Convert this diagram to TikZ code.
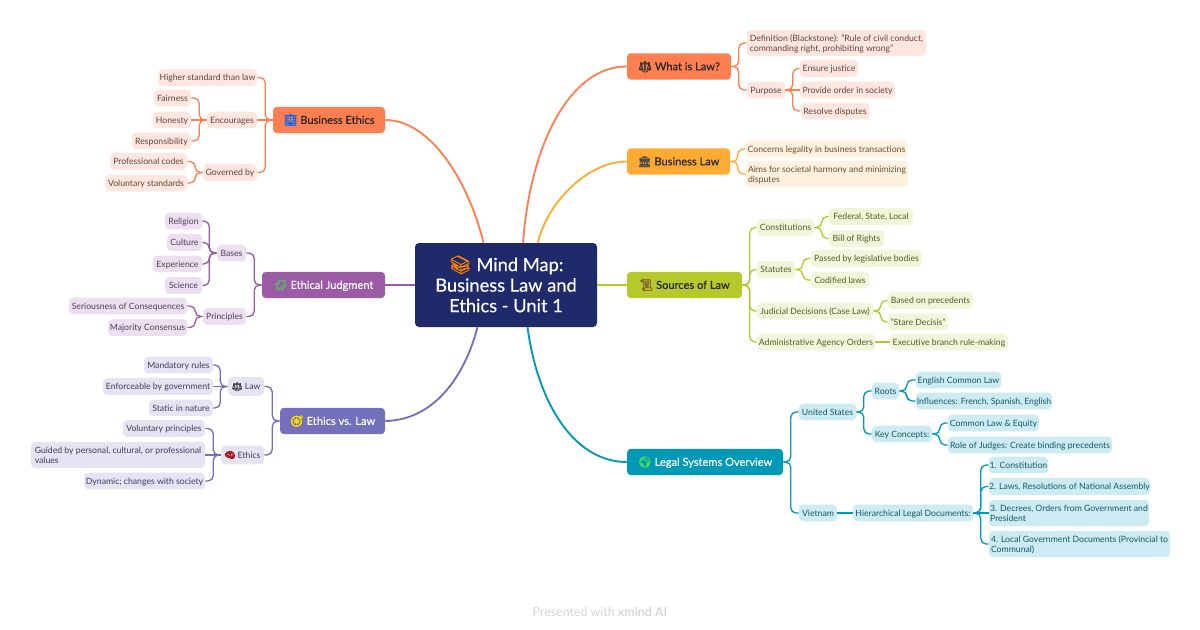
\documentclass[tikz,border=0pt]{standalone}
\usepackage{fontspec}
\setmainfont{Lato}
\newfontfamily\emojifont{Noto Emoji}[FakeBold=0.5]
\newfontfamily\boxfont{Lato}[FakeBold=0.35]

\definecolor{rootblue}{HTML}{1F2A6B}
\definecolor{coral}{HTML}{FF7F50}
\definecolor{coralleaf}{HTML}{FFE6DF}
\definecolor{coraltext}{HTML}{66443B}
\definecolor{amber}{HTML}{FFAB33}
\definecolor{amberleaf}{HTML}{FFF1DD}
\definecolor{ambertext}{HTML}{665233}
\definecolor{lime}{HTML}{B5C92B}
\definecolor{limeleaf}{HTML}{F2F5DA}
\definecolor{limetext}{HTML}{565C2A}
\definecolor{teal}{HTML}{0099B8}
\definecolor{tealleaf}{HTML}{CCEBF2}
\definecolor{tealtext}{HTML}{155A69}
\definecolor{iris}{HTML}{7570BC}
\definecolor{irisleaf}{HTML}{E5E4F3}
\definecolor{iristext}{HTML}{403D60}
\definecolor{violet}{HTML}{9B5BA5}
\definecolor{violetleaf}{HTML}{ECDFEF}
\definecolor{violettext}{HTML}{54405A}
\definecolor{footgray}{HTML}{D6D6D6}
\definecolor{brightgreen}{HTML}{45D65A}

\newcommand{\emo}[2]{\smash{\emojifont\textcolor{#1}{#2}}}

\tikzset{
    leaf/.style={rectangle, rounded corners=3pt, inner sep=0pt, align=left,
        text height=5.8pt, text depth=1.2pt,
        minimum height=12.4pt, minimum width=#1*0.75pt,
        font=\fontsize{6.5}{7.5}\selectfont},
    tallleaf/.style={leaf=#1, minimum height=19.5pt, text height=, text depth=0pt},
    mainbox/.style={rectangle, rounded corners=3pt, inner sep=0pt, minimum height=19.8pt,
        text height=7.2pt, text depth=1.4pt,
        minimum width=#1*0.75pt, font=\boxfont\fontsize{8.3}{10}\selectfont},
    rootbox/.style={rectangle, rounded corners=3pt, inner sep=0pt, align=center, fill=rootblue,
        text=white, minimum width=136.5pt, minimum height=63pt,
        font=\boxfont\fontsize{13.7}{15.4}\selectfont},
    toleft/.style={to path={-- ++(-7.5,0) |- (\tikztotarget)}},
    toright/.style={to path={-- ++(7.5,0) |- (\tikztotarget)}},
    link/.style={draw=#1, line width=1pt, rounded corners=4pt},
    stem/.style={draw=#1, line width=1.4pt},
}

\begin{document}
\begin{tikzpicture}[x=0.75pt, y=-0.75pt]
    \useasboundingbox (0, 0) rectangle (1200, 629);

    \node [rootbox, name=root] at (506, 285) {\emo{orange}{📚} Mind Map:\\Business Law and\\Ethics - Unit 1};

    % upper right
    \node [mainbox=104, fill=coral, text=black!85, name=law_main] at (679, 66.5) {\emo{black!80}{⚖} What is Law?};
    \node [tallleaf=179, fill=coralleaf, text=coraltext, name=law_def] at (836.5, 43) {Definition (Blackstone): "Rule of civil conduct,\\commanding right, prohibiting wrong"};
    \node [leaf=38, fill=coralleaf, text=coraltext, name=law_purpose] at (766, 90) {Purpose};
    \node [leaf=58, fill=coralleaf, text=coraltext, name=law_justice] at (829, 68.5) {Ensure justice};
    \node [leaf=95, fill=coralleaf, text=coraltext, name=law_order] at (847.5, 90) {Provide order in society};
    \node [leaf=69, fill=coralleaf, text=coraltext, name=law_disputes] at (835, 111) {Resolve disputes};

    \node [mainbox=103, fill=amber, text=black!85, name=biz_main] at (678.5, 161.5) {\emo{black!70}{🏛} Business Law};
    \node [leaf=161, fill=amberleaf, text=ambertext, name=biz_legal] at (826.5, 149) {Concerns legality in business transactions};
    \node [tallleaf=162, fill=amberleaf, text=ambertext, name=biz_aims] at (827, 174) {Aims for societal harmony and minimizing\\disputes};

    % right
    \node [mainbox=115, fill=lime, text=black!85, name=src_main] at (684.5, 285) {\emo{brown!70!black}{📜} Sources of Law};
    \node [leaf=57, fill=limeleaf, text=limetext, name=src_const] at (785.5, 227.5) {Constitutions};
    \node [leaf=84, fill=limeleaf, text=limetext, name=src_federal] at (871, 216.5) {Federal, State, Local};
    \node [leaf=55, fill=limeleaf, text=limetext, name=src_bill] at (856.5, 238.5) {Bill of Rights};
    \node [leaf=38, fill=limeleaf, text=limetext, name=src_stat] at (776, 269.5) {Statutes};
    \node [leaf=111, fill=limeleaf, text=limetext, name=src_passed] at (866.5, 258.5) {Passed by legislative bodies};
    \node [leaf=58, fill=limeleaf, text=limetext, name=src_codified] at (840, 280) {Codified laws};
    \node [leaf=116, fill=limeleaf, text=limetext, name=src_judicial] at (815, 311) {Judicial Decisions (Case Law)};
    \node [leaf=85, fill=limeleaf, text=limetext, name=src_based] at (930.5, 300.5) {Based on precedents};
    \node [leaf=60, fill=limeleaf, text=limetext, name=src_stare] at (918, 322) {"Stare Decisis"};
    \node [leaf=118, fill=limeleaf, text=limetext, name=src_admin] at (816, 342) {Administrative Agency Orders};
    \node [leaf=118, fill=limeleaf, text=limetext, name=src_exec] at (949, 342) {Executive branch rule-making};

    % lower right
    \node [mainbox=156, fill=teal, text=white, name=sys_main] at (705, 462) {\emo{brightgreen}{🌍} Legal Systems Overview};
    \node [leaf=57, fill=tealleaf, text=tealtext, name=sys_us] at (827.5, 412) {United States};
    \node [leaf=38, fill=tealleaf, text=tealtext, name=sys_vn] at (818, 513) {Vietnam};
    \node [leaf=27, fill=tealleaf, text=tealtext, name=sys_roots] at (885.5, 391) {Roots};
    \node [leaf=60, fill=tealleaf, text=tealtext, name=sys_key] at (902, 434) {Key Concepts:};
    \node [leaf=85, fill=tealleaf, text=tealtext, name=sys_english] at (958.5, 380) {English Common Law};
    \node [leaf=136, fill=tealleaf, text=tealtext, name=sys_infl] at (984, 401) {Influences: French, Spanish, English};
    \node [leaf=91, fill=tealleaf, text=tealtext, name=sys_equity] at (993.5, 423) {Common Law \& Equity};
    \node [leaf=164, fill=tealleaf, text=tealtext, name=sys_judges] at (1030, 445) {Role of Judges: Create binding precedents};
    \node [leaf=120, fill=tealleaf, text=tealtext, name=sys_hier] at (913, 513) {Hierarchical Legal Documents:};
    \node [leaf=59, fill=tealleaf, text=tealtext, name=sys_doc1] at (1018.5, 465) {1. Constitution};
    \node [leaf=161, fill=tealleaf, text=tealtext, name=sys_doc2] at (1069.5, 486.5) {2. Laws, Resolutions of National Assembly};
    \node [tallleaf=160, fill=tealleaf, text=tealtext, name=sys_doc3] at (1069, 513) {3. Decrees, Orders from Government and\\President};
    \node [tallleaf=181, fill=tealleaf, text=tealtext, name=sys_doc4] at (1079.5, 544) {4. Local Government Documents (Provincial to\\Communal)};

    % upper left
    \node [mainbox=112, fill=coral, text=black!85, name=eth_main] at (329, 120) {\emo{blue!60!cyan}{🏢} Business Ethics};
    \node [leaf=99, fill=coralleaf, text=coraltext, name=eth_higher] at (207.5, 77.5) {Higher standard than law};
    \node [leaf=50, fill=coralleaf, text=coraltext, name=eth_enc] at (232, 120) {Encourages};
    \node [leaf=54, fill=coralleaf, text=coraltext, name=eth_gov] at (230, 172.5) {Governed by};
    \node [leaf=37, fill=coralleaf, text=coraltext, name=eth_fair] at (172.5, 98) {Fairness};
    \node [leaf=38, fill=coralleaf, text=coraltext, name=eth_honest] at (172, 120) {Honesty};
    \node [leaf=59, fill=coralleaf, text=coraltext, name=eth_resp] at (161.5, 141) {Responsibility};
    \node [leaf=77, fill=coralleaf, text=coraltext, name=eth_codes] at (148.5, 161.5) {Professional codes};
    \node [leaf=82, fill=coralleaf, text=coraltext, name=eth_stand] at (146, 183) {Voluntary standards};

    % left
    \node [mainbox=123, fill=violet, text=white, name=jud_main] at (323.5, 285) {\emo{brightgreen}{🧩} Ethical Judgment};
    \node [leaf=29, fill=violetleaf, text=violettext, name=jud_bases] at (231.5, 253) {Bases};
    \node [leaf=43, fill=violetleaf, text=violettext, name=jud_prin] at (224.5, 316.5) {Principles};
    \node [leaf=37, fill=violetleaf, text=violettext, name=jud_rel] at (183.5, 221) {Religion};
    \node [leaf=35, fill=violetleaf, text=violettext, name=jud_cul] at (184.5, 242.5) {Culture};
    \node [leaf=49, fill=violetleaf, text=violettext, name=jud_exp] at (177.5, 264) {Experience};
    \node [leaf=37, fill=violetleaf, text=violettext, name=jud_sci] at (183.5, 285.5) {Science};
    \node [leaf=118, fill=violetleaf, text=violettext, name=jud_ser] at (128, 306) {Seriousness of Consequences};
    \node [leaf=79, fill=violetleaf, text=violettext, name=jud_maj] at (147.5, 327.5) {Majority Consensus};

    % lower left
    \node [mainbox=105, fill=iris, text=white, name=vs_main] at (332.5, 421) {\emo{yellow!80!orange}{🧭} Ethics vs. Law};
    \node [leaf=36, minimum height=14pt, fill=irisleaf, text=iristext, name=vs_law] at (246, 386.5) {\emo{black!75}{⚖} Law};
    \node [leaf=43, minimum height=14pt, fill=irisleaf, text=iristext, name=vs_eth] at (242.5, 455) {\emo{red!65!black}{🧠} Ethics};
    \node [leaf=69, fill=irisleaf, text=iristext, name=vs_mand] at (178.5, 365) {Mandatory rules};
    \node [leaf=110, fill=irisleaf, text=iristext, name=vs_enf] at (158, 386.5) {Enforceable by government};
    \node [leaf=64, fill=irisleaf, text=iristext, name=vs_static] at (181, 408) {Static in nature};
    \node [leaf=82, fill=irisleaf, text=iristext, name=vs_vol] at (164, 428.5) {Voluntary principles};
    \node [tallleaf=174, fill=irisleaf, text=iristext, name=vs_guided] at (118, 455) {Guided by personal, cultural, or professional\\values};
    \node [leaf=121, fill=irisleaf, text=iristext, name=vs_dyn] at (144.5, 481) {Dynamic; changes with society};

    \node [text=footgray, font=\fontsize{9.3}{11}\selectfont, name=footer] at (600, 612) {Presented with \textbf{xmind AI}};

    % from the centre
    \draw [stem=coral] (eth_main.east) .. controls (430, 120) and (468, 180) .. (root.118);
    \draw [stem=coral] (law_main.west) .. controls (570, 66) and (530, 145) .. (root.68);
    \draw [stem=amber] (biz_main.west) .. controls (590, 161) and (548, 200) .. (root.53);
    \draw [stem=lime] (root.east) -- (src_main.west);
    \draw [stem=violet] (root.west) -- (jud_main.east);
    \draw [stem=iris] (vs_main.east) .. controls (435, 420) and (465, 375) .. (root.236);
    \draw [stem=teal] (sys_main.west) .. controls (575, 462) and (538, 405) .. (root.297);

    \draw [link=coral] (law_main.east) to [toright] (law_def.west);
    \draw [link=coral] (law_main.east) to [toright] (law_purpose.west);
    \draw [link=coral] (law_purpose.east) to [toright] (law_justice.west);
    \draw [link=coral] (law_purpose.east) -- (law_order.west);
    \draw [link=coral] (law_purpose.east) to [toright] (law_disputes.west);

    \draw [link=amber] (biz_main.east) to [toright] (biz_legal.west);
    \draw [link=amber] (biz_main.east) to [toright] (biz_aims.west);

    \draw [link=lime] (src_main.east) to [toright] (src_const.west);
    \draw [link=lime] (src_main.east) to [toright] (src_stat.west);
    \draw [link=lime] (src_main.east) to [toright] (src_judicial.west);
    \draw [link=lime] (src_main.east) to [toright] (src_admin.west);
    \draw [link=lime] (src_const.east) to [toright] (src_federal.west);
    \draw [link=lime] (src_const.east) to [toright] (src_bill.west);
    \draw [link=lime] (src_stat.east) to [toright] (src_passed.west);
    \draw [link=lime] (src_stat.east) to [toright] (src_codified.west);
    \draw [link=lime] (src_judicial.east) to [toright] (src_based.west);
    \draw [link=lime] (src_judicial.east) to [toright] (src_stare.west);
    \draw [link=lime] (src_admin.east) -- (src_exec.west);

    \draw [link=teal] (sys_main.east) to [toright] (sys_us.west);
    \draw [link=teal] (sys_main.east) to [toright] (sys_vn.west);
    \draw [link=teal] (sys_us.east) to [toright] (sys_roots.west);
    \draw [link=teal] (sys_us.east) to [toright] (sys_key.west);
    \draw [link=teal] (sys_roots.east) to [toright] (sys_english.west);
    \draw [link=teal] (sys_roots.east) to [toright] (sys_infl.west);
    \draw [link=teal] (sys_key.east) to [toright] (sys_equity.west);
    \draw [link=teal] (sys_key.east) to [toright] (sys_judges.west);
    \draw [link=teal] (sys_vn.east) -- (sys_hier.west);
    \draw [link=teal] (sys_hier.east) to [toright] (sys_doc1.west);
    \draw [link=teal] (sys_hier.east) to [toright] (sys_doc2.west);
    \draw [link=teal] (sys_hier.east) -- (sys_doc3.west);
    \draw [link=teal] (sys_hier.east) to [toright] (sys_doc4.west);

    \draw [link=coral] (eth_main.west) to [toleft] (eth_higher.east);
    \draw [link=coral] (eth_main.west) -- (eth_enc.east);
    \draw [link=coral] (eth_main.west) to [toleft] (eth_gov.east);
    \draw [link=coral] (eth_enc.west) to [toleft] (eth_fair.east);
    \draw [link=coral] (eth_enc.west) -- (eth_honest.east);
    \draw [link=coral] (eth_enc.west) to [toleft] (eth_resp.east);
    \draw [link=coral] (eth_gov.west) to [toleft] (eth_codes.east);
    \draw [link=coral] (eth_gov.west) to [toleft] (eth_stand.east);

    \draw [link=violet] (jud_main.west) to [toleft] (jud_bases.east);
    \draw [link=violet] (jud_main.west) to [toleft] (jud_prin.east);
    \draw [link=violet] (jud_bases.west) to [toleft] (jud_rel.east);
    \draw [link=violet] (jud_bases.west) to [toleft] (jud_cul.east);
    \draw [link=violet] (jud_bases.west) to [toleft] (jud_exp.east);
    \draw [link=violet] (jud_bases.west) to [toleft] (jud_sci.east);
    \draw [link=violet] (jud_prin.west) to [toleft] (jud_ser.east);
    \draw [link=violet] (jud_prin.west) to [toleft] (jud_maj.east);

    \draw [link=iris] (vs_main.west) to [toleft] (vs_law.east);
    \draw [link=iris] (vs_main.west) to [toleft] (vs_eth.east);
    \draw [link=iris] (vs_law.west) to [toleft] (vs_mand.east);
    \draw [link=iris] (vs_law.west) -- (vs_enf.east);
    \draw [link=iris] (vs_law.west) to [toleft] (vs_static.east);
    \draw [link=iris] (vs_eth.west) to [toleft] (vs_vol.east);
    \draw [link=iris] (vs_eth.west) -- (vs_guided.east);
    \draw [link=iris] (vs_eth.west) to [toleft] (vs_dyn.east);
\end{tikzpicture}
\end{document}
